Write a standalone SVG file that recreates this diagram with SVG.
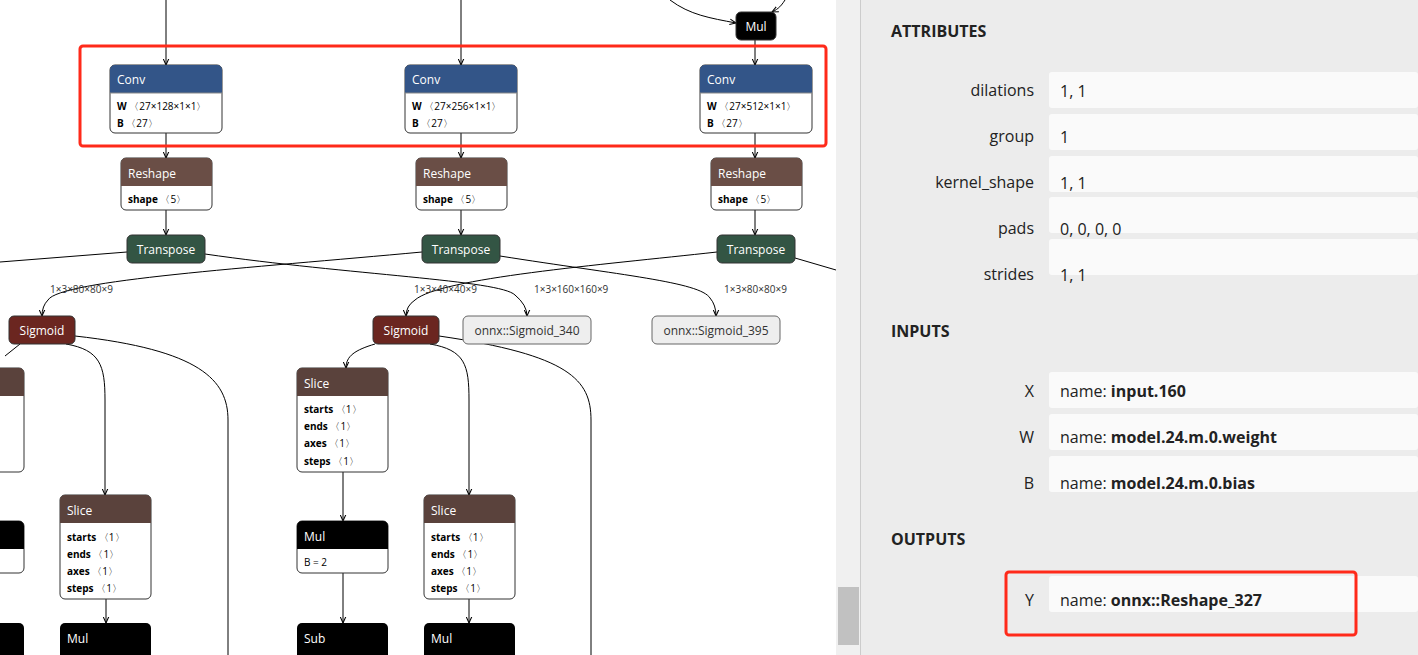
<svg xmlns="http://www.w3.org/2000/svg" width="1418" height="655" viewBox="0 0 1418 655">
<defs>
<marker id="ar" viewBox="0 0 10 10" refX="9" refY="5" markerWidth="7" markerHeight="7" orient="auto"><path d="M0,1 L9,5 L0,9" fill="none" stroke="#000" stroke-width="1.5"/></marker>
<style>
text{font-family:"Segoe UI","Open Sans","Noto Sans",sans-serif}
.h{fill:#fff;font-size:12px}
.a{fill:#000;font-size:10px}
.ab{font-weight:bold}
.box{fill:#fff;stroke:#333;stroke-width:1}
.e{fill:none;stroke:#000;stroke-width:1}
.lbl{fill:#333;font-size:10px}
.pl{fill:#222;font-size:16px}
.ph{fill:#222;font-size:16px;font-weight:bold}
.vb{fill:#fafafa}
.vt{fill:#222;font-size:16px}
</style>
</defs>
<rect width="1418" height="655" fill="#fff"/>
<g id="edges">
<path class="e" d="M166,0 V65" marker-end="url(#ar)"/>
<path class="e" d="M461,0 V65" marker-end="url(#ar)"/>
<path class="e" d="M670,0 C690,15 710,18 736,23" marker-end="url(#ar)"/>
<path class="e" d="M785,0 C780,8 776,10 772,12" marker-end="url(#ar)"/>
<path class="e" d="M755,40 V65" marker-end="url(#ar)"/>
<path class="e" d="M166,133 V158" marker-end="url(#ar)"/>
<path class="e" d="M461,133 V158" marker-end="url(#ar)"/>
<path class="e" d="M755,133 V158" marker-end="url(#ar)"/>
<path class="e" d="M166,210 V235" marker-end="url(#ar)"/>
<path class="e" d="M461,210 V235" marker-end="url(#ar)"/>
<path class="e" d="M755,210 V235" marker-end="url(#ar)"/>
<path class="e" d="M127,252 L0,262"/>
<path class="e" d="M205,254 C350,275 500,280 515,295 Q527,305 527,316" marker-end="url(#ar)"/>
<path class="e" d="M422,252 C250,268 60,280 48,300 Q42,306 42,316" marker-end="url(#ar)"/>
<path class="e" d="M500,256 C620,275 700,282 710,298 Q716,305 716,316" marker-end="url(#ar)"/>
<path class="e" d="M717,252 C600,265 440,278 415,300 Q406,306 406,316" marker-end="url(#ar)"/>
<path class="e" d="M795,258 L836,270"/>
<path class="e" d="M20,344 L5,356"/>
<path class="e" d="M66,344 C100,350 105,365 105,400 V495" marker-end="url(#ar)"/>
<path class="e" d="M75,336 C200,350 228,380 228,420 V655"/>
<path class="e" d="M375,344 C355,350 346,356 346,368" marker-end="url(#ar)"/>
<path class="e" d="M430,344 C465,350 469,365 469,400 V495" marker-end="url(#ar)"/>
<path class="e" d="M439,336 C570,355 591,380 591,420 V655"/>
<path class="e" d="M343,472 V521" marker-end="url(#ar)"/>
<path class="e" d="M343,573 V623" marker-end="url(#ar)"/>
<path class="e" d="M106,599 V623" marker-end="url(#ar)"/>
<path class="e" d="M469,599 V623" marker-end="url(#ar)"/>
</g>
<g id="labels">
<text class="lbl" x="50" y="293">1×3×80×80×9</text>
<text class="lbl" x="414" y="293">1×3×40×40×9</text>
<text class="lbl" x="534" y="293">1×3×160×160×9</text>
<text class="lbl" x="724" y="293">1×3×80×80×9</text>
</g>
<g id="mul0"><rect x="736" y="12" width="40" height="28" rx="5" fill="#000" stroke="#333"/><text class="h" x="756" y="31" text-anchor="middle">Mul</text></g>
<g id="conv1"><rect class="box" x="110" y="65" width="112" height="68" rx="5"/><path d="M110,93 V70 a5,5 0 0 1 5,-5 H217 a5,5 0 0 1 5,5 V93 Z" fill="#335588"/><line x1="110" y1="93" x2="222" y2="93" stroke="#888"/><text class="h" x="117" y="84">Conv</text><text class="a" x="117" y="110"><tspan class="ab">W</tspan> 〈27×128×1×1〉</text><text class="a" x="117" y="127"><tspan class="ab">B</tspan> 〈27〉</text></g>
<g id="conv2"><rect class="box" x="405" y="65" width="112" height="68" rx="5"/><path d="M405,93 V70 a5,5 0 0 1 5,-5 H512 a5,5 0 0 1 5,5 V93 Z" fill="#335588"/><line x1="405" y1="93" x2="517" y2="93" stroke="#888"/><text class="h" x="412" y="84">Conv</text><text class="a" x="412" y="110"><tspan class="ab">W</tspan> 〈27×256×1×1〉</text><text class="a" x="412" y="127"><tspan class="ab">B</tspan> 〈27〉</text></g>
<g id="conv3"><rect class="box" x="700" y="65" width="112" height="68" rx="5"/><path d="M700,93 V70 a5,5 0 0 1 5,-5 H807 a5,5 0 0 1 5,5 V93 Z" fill="#335588"/><line x1="700" y1="93" x2="812" y2="93" stroke="#888"/><text class="h" x="707" y="84">Conv</text><text class="a" x="707" y="110"><tspan class="ab">W</tspan> 〈27×512×1×1〉</text><text class="a" x="707" y="127"><tspan class="ab">B</tspan> 〈27〉</text></g>
<rect x="80" y="46" width="746" height="100" rx="3" fill="none" stroke="#ff2a1a" stroke-width="3"/>
<g id="reshape1"><rect class="box" x="121" y="158" width="91" height="52" rx="5"/><path d="M121,186 V163 a5,5 0 0 1 5,-5 H207 a5,5 0 0 1 5,5 V186 Z" fill="#6a4e46"/><text class="h" x="128" y="178">Reshape</text><text class="a" x="128" y="203"><tspan class="ab">shape</tspan> 〈5〉</text></g>
<g id="reshape2"><rect class="box" x="416" y="158" width="91" height="52" rx="5"/><path d="M416,186 V163 a5,5 0 0 1 5,-5 H502 a5,5 0 0 1 5,5 V186 Z" fill="#6a4e46"/><text class="h" x="423" y="178">Reshape</text><text class="a" x="423" y="203"><tspan class="ab">shape</tspan> 〈5〉</text></g>
<g id="reshape3"><rect class="box" x="711" y="158" width="91" height="52" rx="5"/><path d="M711,186 V163 a5,5 0 0 1 5,-5 H797 a5,5 0 0 1 5,5 V186 Z" fill="#6a4e46"/><text class="h" x="718" y="178">Reshape</text><text class="a" x="718" y="203"><tspan class="ab">shape</tspan> 〈5〉</text></g>
<g id="tr1"><rect x="127" y="235" width="78" height="28" rx="5" fill="#335544" stroke="#333"/><text class="h" x="166" y="254" text-anchor="middle">Transpose</text></g>
<g id="tr2"><rect x="422" y="235" width="78" height="28" rx="5" fill="#335544" stroke="#333"/><text class="h" x="461" y="254" text-anchor="middle">Transpose</text></g>
<g id="tr3"><rect x="717" y="235" width="78" height="28" rx="5" fill="#335544" stroke="#333"/><text class="h" x="756" y="254" text-anchor="middle">Transpose</text></g>
<g id="sig1"><rect x="9" y="316" width="66" height="28" rx="5" fill="#6b2620" stroke="#333"/><text class="h" x="42" y="335" text-anchor="middle">Sigmoid</text></g>
<g id="sig2"><rect x="373" y="316" width="66" height="28" rx="5" fill="#6b2620" stroke="#333"/><text class="h" x="406" y="335" text-anchor="middle">Sigmoid</text></g>
<g id="o340"><rect x="463" y="316" width="128" height="28" rx="5" fill="#eee" stroke="#666"/><text x="527" y="335" text-anchor="middle" font-size="12" fill="#333">onnx::Sigmoid_340</text></g>
<g id="o395"><rect x="652" y="316" width="128" height="28" rx="5" fill="#eee" stroke="#666"/><text x="716" y="335" text-anchor="middle" font-size="12" fill="#333">onnx::Sigmoid_395</text></g>
<g id="sliceL"><rect class="box" x="-20" y="368" width="44" height="104" rx="5"/><path d="M-20,396 V368 H19 a5,5 0 0 1 5,5 V396 Z" fill="#5a423c"/></g>
<g id="mulL"><rect class="box" x="-20" y="521" width="44" height="52" rx="5"/><path d="M-20,549 V521 H19 a5,5 0 0 1 5,5 V549 Z" fill="#000"/></g>
<g id="mulL2"><rect x="-20" y="623" width="44" height="40" rx="5" fill="#000"/></g>
<g id="slice1"><rect class="box" x="297" y="368" width="91" height="104" rx="5"/><path d="M297,396 V373 a5,5 0 0 1 5,-5 H383 a5,5 0 0 1 5,5 V396 Z" fill="#5a423c"/><text class="h" x="304" y="388">Slice</text><text class="a" x="304" y="413"><tspan class="ab">starts</tspan> 〈1〉</text><text class="a" x="304" y="430"><tspan class="ab">ends</tspan> 〈1〉</text><text class="a" x="304" y="447"><tspan class="ab">axes</tspan> 〈1〉</text><text class="a" x="304" y="465"><tspan class="ab">steps</tspan> 〈1〉</text></g>
<g id="slice2"><rect class="box" x="60" y="495" width="91" height="104" rx="5"/><path d="M60,523 V500 a5,5 0 0 1 5,-5 H146 a5,5 0 0 1 5,5 V523 Z" fill="#5a423c"/><text class="h" x="67" y="515">Slice</text><text class="a" x="67" y="541"><tspan class="ab">starts</tspan> 〈1〉</text><text class="a" x="67" y="558"><tspan class="ab">ends</tspan> 〈1〉</text><text class="a" x="67" y="575"><tspan class="ab">axes</tspan> 〈1〉</text><text class="a" x="67" y="592"><tspan class="ab">steps</tspan> 〈1〉</text></g>
<g id="slice3"><rect class="box" x="424" y="495" width="91" height="104" rx="5"/><path d="M424,523 V500 a5,5 0 0 1 5,-5 H510 a5,5 0 0 1 5,5 V523 Z" fill="#5a423c"/><text class="h" x="431" y="515">Slice</text><text class="a" x="431" y="541"><tspan class="ab">starts</tspan> 〈1〉</text><text class="a" x="431" y="558"><tspan class="ab">ends</tspan> 〈1〉</text><text class="a" x="431" y="575"><tspan class="ab">axes</tspan> 〈1〉</text><text class="a" x="431" y="592"><tspan class="ab">steps</tspan> 〈1〉</text></g>
<g id="mul1"><rect class="box" x="297" y="521" width="91" height="52" rx="5"/><path d="M297,549 V526 a5,5 0 0 1 5,-5 H383 a5,5 0 0 1 5,5 V549 Z" fill="#000"/><text class="h" x="304" y="541">Mul</text><text class="a" x="304" y="566">B = 2</text></g>
<g id="sub"><rect x="297" y="623" width="91" height="40" rx="5" fill="#000"/><text class="h" x="304" y="643">Sub</text></g>
<g id="mul2"><rect x="60" y="623" width="91" height="40" rx="5" fill="#000"/><text class="h" x="67" y="643">Mul</text></g>
<g id="mul3"><rect x="424" y="623" width="91" height="40" rx="5" fill="#000"/><text class="h" x="431" y="643">Mul</text></g>
<g id="panel">
<rect x="836" y="0" width="24" height="655" fill="#f0f0f0"/>
<rect x="838" y="587" width="21" height="58" fill="#c1c1c1"/>
<rect x="860" y="0" width="1" height="655" fill="#ccc"/>
<rect x="861" y="0" width="557" height="655" fill="#ececec"/>
<text class="ph" x="891" y="37">ATTRIBUTES</text>
<text class="ph" x="891" y="337">INPUTS</text>
<text class="ph" x="891" y="545">OUTPUTS</text>
<rect class="vb" x="1049" y="72" width="369" height="36" rx="3"/>
<rect class="vb" x="1049" y="114" width="369" height="36" rx="3"/>
<rect class="vb" x="1049" y="156" width="369" height="36" rx="3"/>
<rect class="vb" x="1049" y="197" width="369" height="36" rx="3"/>
<rect class="vb" x="1049" y="239" width="369" height="36" rx="3"/>
<rect class="vb" x="1049" y="372" width="369" height="36" rx="3"/>
<rect class="vb" x="1049" y="414" width="369" height="36" rx="3"/>
<rect class="vb" x="1049" y="456" width="369" height="36" rx="3"/>
<rect class="vb" x="1049" y="576" width="369" height="36" rx="3"/>
<g text-anchor="end">
<text class="pl" x="1034" y="96">dilations</text>
<text class="pl" x="1034" y="142">group</text>
<text class="pl" x="1034" y="188">kernel_shape</text>
<text class="pl" x="1034" y="234">pads</text>
<text class="pl" x="1034" y="280">strides</text>
<text class="pl" x="1034" y="397">X</text>
<text class="pl" x="1034" y="443">W</text>
<text class="pl" x="1034" y="489">B</text>
<text class="pl" x="1034" y="606">Y</text>
</g>
<text class="vt" x="1060" y="97">1, 1</text>
<text class="vt" x="1060" y="143">1</text>
<text class="vt" x="1060" y="189">1, 1</text>
<text class="vt" x="1060" y="235">0, 0, 0, 0</text>
<text class="vt" x="1060" y="281">1, 1</text>
<text class="vt" x="1060" y="397">name: <tspan font-weight="bold">input.160</tspan></text>
<text class="vt" x="1060" y="443">name: <tspan font-weight="bold">model.24.m.0.weight</tspan></text>
<text class="vt" x="1060" y="489">name: <tspan font-weight="bold">model.24.m.0.bias</tspan></text>
<text class="vt" x="1060" y="606">name: <tspan font-weight="bold">onnx::Reshape_327</tspan></text>
<rect x="1006" y="572" width="350" height="63" rx="3" fill="none" stroke="#ff2a1a" stroke-width="3"/>
</g>
</svg>
